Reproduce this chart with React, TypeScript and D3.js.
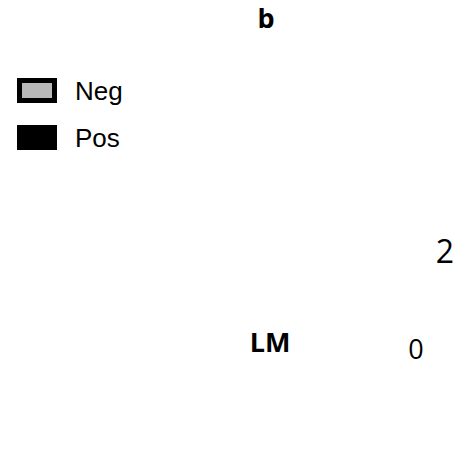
import React, { useEffect, useRef } from 'react';
import * as d3 from 'd3';

const legendLabels = ['Neg', 'Pos'];
const legendFills = ['#b8b8b8', '#000000'];
const panelLabel = 'b';
const groupLabels = ['LM'];
const tickLabels = ['0', '2'];

const App: React.FC = () => {
  const svgRef = useRef<SVGSVGElement>(null);

  useEffect(() => {
    if (!svgRef.current) return;
    const svg = d3.select(svgRef.current);
    svg.selectAll('*').remove();

    // panel letter
    svg.append('text')
      .attr('x', 266)
      .attr('y', 28)
      .attr('text-anchor', 'middle')
      .style('font-family', '"Open Sans", sans-serif')
      .style('font-weight', 'bold')
      .style('font-size', '27px')
      .text(panelLabel);

    // legend
    const ly = d3.scaleBand<string>().domain(legendLabels).range([78, 150]).paddingInner(0.468);
    const leg = svg.selectAll('.leg').data(legendLabels).enter().append('g').attr('class', 'leg');
    leg.append('rect')
      .attr('x', 19.5)
      .attr('y', d => (ly(d) as number) + 2.5)
      .attr('width', 35)
      .attr('height', ly.bandwidth() - 5)
      .attr('fill', (d, i) => legendFills[i])
      .attr('stroke', '#000')
      .attr('stroke-width', 5);
    leg.append('text')
      .attr('x', 75)
      .attr('y', d => (ly(d) as number) + 22)
      .style('font-family', '"Liberation Sans", Arial, sans-serif')
      .style('font-size', '26px')
      .text(d => d);

    // group label
    svg.append('text')
      .attr('x', 270)
      .attr('y', 352)
      .attr('text-anchor', 'middle')
      .style('font-family', '"Open Sans", sans-serif')
      .style('font-weight', 'bold')
      .style('font-size', '27px')
      .text(groupLabels[0]);

    // tick labels
    svg.append('text')
      .attr('x', 416)
      .attr('y', 359)
      .attr('text-anchor', 'middle')
      .style('font-family', '"Open Sans", sans-serif')
      .style('font-size', '27px')
      .text(tickLabels[0]);
    svg.append('text')
      .attr('x', 445)
      .attr('y', 263)
      .attr('text-anchor', 'middle')
      .style('font-family', '"Open Sans", sans-serif')
      .style('font-size', '32px')
      .text(tickLabels[1]);
  }, []);

  return (
    <svg ref={svgRef} width={474} height={474} style={{ position: 'absolute', left: 0, top: 0, background: '#fff' }} />
  );
};

export default App;
